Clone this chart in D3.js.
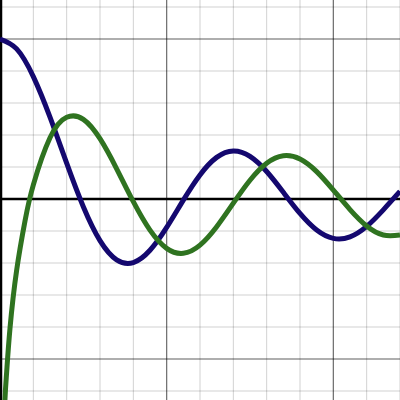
<!DOCTYPE html>
<html><head><meta charset="utf-8">
<script src="https://cdn.jsdelivr.net/npm/d3@7"></script>
<style>body{margin:0;background:#fff}svg{display:block}</style>
</head><body><svg width="400" height="400"></svg>
<script>
const blueX = [0,0.5,1,1.5,2,2.5,3,3.5,4,4.5,5,5.5,6,6.5,7,7.5,8,8.5,9,9.5,10,10.5,11,11.5,12];
const blueY = [1,0.9385,0.7652,0.5118,0.2239,-0.0484,-0.2601,-0.3801,-0.3971,-0.3205,-0.1776,-0.0068,0.1506,0.2601,0.3001,0.2663,0.1717,0.0419,-0.0903,-0.1939,-0.2459,-0.2366,-0.1712,-0.0677,0.0477];
const greenX = [0.1,0.15,0.2,0.3,0.5,0.75,1,1.5,2,2.5,3,3.5,4,4.5,5,5.5,6,6.5,7,7.5,8,8.5,9,9.5,10,10.5,11,11.5,12];
const greenY = [-1.5342,-1.2479,-1.0811,-0.8073,-0.4445,-0.1372,0.0883,0.3824,0.5104,0.4981,0.3769,0.1890,-0.0169,-0.1947,-0.3085,-0.3395,-0.2882,-0.1732,-0.0259,0.1173,0.2235,0.2702,0.2499,0.1712,0.0557,-0.0660,-0.1688,-0.2252,-0.2252];
const minorXTicks = d3.range(0,13,1);
const minorYTicks = d3.range(-1.2,1.3,0.2).map(v=>+v.toFixed(1));
const majorXTicks = [5,10];
const majorYTicks = [-1,1];

const svg = d3.select("svg");
const x = d3.scaleLinear().domain([0,12]).range([0,400]);
const y = d3.scaleLinear().domain([-1.25,1.25]).range([399,-1]);
const g = svg.append("g");
g.selectAll(".mx").data(minorXTicks).join("line").attr("x1",d=>x(d)).attr("x2",d=>x(d)).attr("y1",0).attr("y2",400).attr("stroke","#000").attr("stroke-opacity",0.18).attr("stroke-width",1);
g.selectAll(".my").data(minorYTicks).join("line").attr("y1",d=>y(d)).attr("y2",d=>y(d)).attr("x1",0).attr("x2",400).attr("stroke","#000").attr("stroke-opacity",0.18).attr("stroke-width",1);
g.selectAll(".Mx").data(majorXTicks).join("line").attr("x1",d=>x(d)).attr("x2",d=>x(d)).attr("y1",0).attr("y2",400).attr("stroke","#000").attr("stroke-opacity",0.5).attr("stroke-width",1.2);
g.selectAll(".My").data(majorYTicks).join("line").attr("y1",d=>y(d)).attr("y2",d=>y(d)).attr("x1",0).attr("x2",400).attr("stroke","#000").attr("stroke-opacity",0.5).attr("stroke-width",1.2);
g.append("line").attr("x1",0).attr("x2",400).attr("y1",y(0)).attr("y2",y(0)).attr("stroke","#000").attr("stroke-width",2.5);
g.append("line").attr("x1",x(0)+1).attr("x2",x(0)+1).attr("y1",0).attr("y2",400).attr("stroke","#000").attr("stroke-width",2.5);
const line = d3.line().x(d=>x(d[0])).y(d=>y(d[1])).curve(d3.curveNatural);
svg.append("path").attr("d",line(blueX.map((v,i)=>[v,blueY[i]]))).attr("fill","none").attr("stroke","#14086f").attr("stroke-width",5);
svg.append("path").attr("d",line(greenX.map((v,i)=>[v,greenY[i]]))).attr("fill","none").attr("stroke","#2f7320").attr("stroke-width",5);
</script></body></html>
